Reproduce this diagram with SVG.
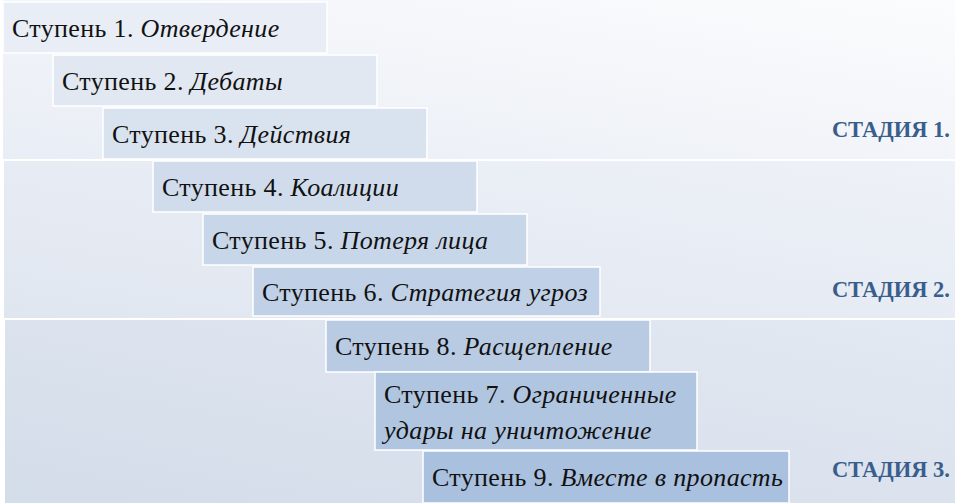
<svg xmlns="http://www.w3.org/2000/svg" width="958" height="503" viewBox="0 0 958 503">
<defs>
<linearGradient id="g1" x1="1" y1="0" x2="0" y2="1"><stop offset="0" stop-color="#fbfcfd"/><stop offset="1" stop-color="#e9edf5"/></linearGradient>
<linearGradient id="g2" x1="1" y1="0" x2="0" y2="1"><stop offset="0" stop-color="#eef1f7"/><stop offset="1" stop-color="#e0e6f0"/></linearGradient>
<linearGradient id="g3" x1="1" y1="0" x2="0" y2="1"><stop offset="0" stop-color="#e3e9f2"/><stop offset="1" stop-color="#d3dce9"/></linearGradient>
</defs>
<style>
.band{stroke:none}
.box{stroke:#ffffff;stroke-width:1.5}
.t{font-family:"Liberation Serif","Times New Roman",serif;font-size:26px;letter-spacing:0.35px;fill:#111111}
.i{font-style:italic}
.st{font-family:"Liberation Serif","Times New Roman",serif;font-size:22.5px;font-weight:bold;fill:#3a5e8c;text-anchor:end}
</style>
<rect x="0" y="0" width="958" height="503" fill="#ffffff"/>
<g id="stage1">
<rect class="band" x="3" y="0" width="952" height="159" fill="url(#g1)"/>
<text class="st" x="950" y="137">СТАДИЯ 1.</text>
</g>
<g id="stage2">
<rect class="band" x="4" y="161" width="951" height="157" fill="url(#g2)"/>
<text class="st" x="950" y="297">СТАДИЯ 2.</text>
</g>
<g id="stage3">
<rect class="band" x="5" y="320" width="950" height="183" fill="url(#g3)"/>
<text class="st" x="950" y="477">СТАДИЯ 3.</text>
</g>
<g id="step1"><rect class="box" x="3" y="2" width="324" height="51" fill="#e9eef6"/><text class="t" x="12" y="37">Ступень 1. <tspan class="i">Отвердение</tspan></text></g>
<g id="step2"><rect class="box" x="53" y="55" width="324" height="51" fill="#e1e8f2"/><text class="t" x="62" y="90">Ступень 2. <tspan class="i">Дебаты</tspan></text></g>
<g id="step3"><rect class="box" x="103" y="108" width="324" height="51" fill="#d9e3ef"/><text class="t" x="112" y="143">Ступень 3. <tspan class="i">Действия</tspan></text></g>
<g id="step4"><rect class="box" x="153" y="161" width="324" height="51" fill="#d0dcec"/><text class="t" x="162" y="196">Ступень 4. <tspan class="i">Коалиции</tspan></text></g>
<g id="step5"><rect class="box" x="203" y="214" width="324" height="51" fill="#c8d6e9"/><text class="t" x="212" y="249">Ступень 5. <tspan class="i">Потеря лица</tspan></text></g>
<g id="step6"><rect class="box" x="253" y="267" width="347" height="49" fill="#c0d0e6"/><text class="t" x="262" y="301">Ступень 6. <tspan class="i">Стратегия угроз</tspan></text></g>
<g id="step8"><rect class="box" x="326" y="320" width="324" height="52" fill="#b8cbe3"/><text class="t" x="335" y="355">Ступень 8. <tspan class="i">Расщепление</tspan></text></g>
<g id="step7"><rect class="box" x="375" y="372" width="322" height="78" fill="#b0c5e0"/><text class="t" x="384" y="403">Ступень 7. <tspan class="i">Ограниченные</tspan></text><text class="t i" x="384" y="439">удары на уничтожение</text></g>
<g id="step9"><rect class="box" x="423" y="451" width="366" height="52" fill="#a9c0de"/><text class="t" x="432" y="486">Ступень 9. <tspan class="i">Вместе в пропасть</tspan></text></g>
<g id="connectors"/>
</svg>
